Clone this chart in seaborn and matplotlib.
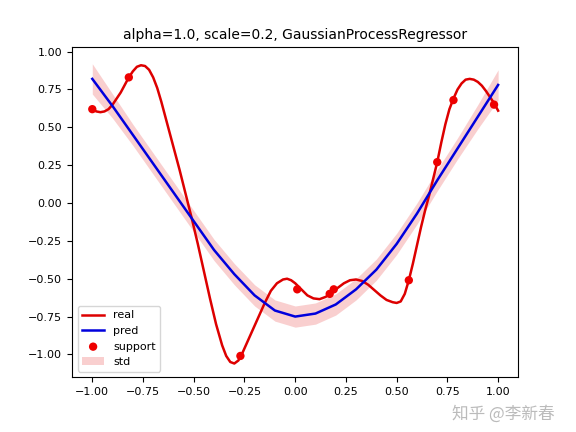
import seaborn as sns
import numpy as np
import matplotlib.pyplot as plt

real_x = [-1.0, -0.98, -0.96, -0.94, -0.92, -0.9, -0.88, -0.86, -0.84, -0.82, -0.8, -0.78, -0.76, -0.74,
          -0.72, -0.7, -0.68, -0.66, -0.64, -0.62, -0.6, -0.57, -0.54, -0.51, -0.48, -0.45, -0.42,
          -0.39, -0.36, -0.34, -0.32, -0.3, -0.28, -0.26, -0.24, -0.21, -0.18, -0.15, -0.12, -0.09,
          -0.06, -0.04, -0.02, 0.0, 0.03, 0.06, 0.09, 0.12, 0.15, 0.18, 0.21, 0.24, 0.27, 0.3, 0.33,
          0.36, 0.39, 0.42, 0.45, 0.48, 0.5, 0.52, 0.54, 0.56, 0.58, 0.6, 0.62, 0.64, 0.66, 0.68,
          0.7, 0.72, 0.74, 0.76, 0.78, 0.8, 0.82, 0.84, 0.86, 0.88, 0.9, 0.92, 0.94, 0.96, 0.98, 1.0]
real_y = [0.62, 0.605, 0.60, 0.605, 0.62, 0.65, 0.69, 0.73, 0.78, 0.83, 0.87, 0.90, 0.91, 0.905,
          0.88, 0.83, 0.76, 0.67, 0.57, 0.47, 0.37, 0.22, 0.06, -0.10, -0.27, -0.45, -0.63,
          -0.80, -0.94, -1.01, -1.05, -1.06, -1.04, -0.99, -0.93, -0.84, -0.75, -0.66, -0.58, -0.53,
          -0.505, -0.50, -0.51, -0.53, -0.57, -0.61, -0.63, -0.635, -0.62, -0.595, -0.56, -0.53, -0.51, -0.505, -0.515,
          -0.54, -0.575, -0.61, -0.64, -0.655, -0.66, -0.65, -0.60, -0.51, -0.40, -0.28, -0.16, -0.05, 0.05, 0.16,
          0.27, 0.40, 0.52, 0.62, 0.69, 0.75, 0.79, 0.815, 0.82, 0.815, 0.80, 0.775, 0.74, 0.70, 0.66, 0.61]

pred_x = [-1.0, -0.9, -0.8, -0.7, -0.6, -0.5, -0.4, -0.3, -0.2, -0.1, 0.0,
          0.1, 0.2, 0.3, 0.4, 0.5, 0.6, 0.7, 0.8, 0.9, 1.0]
pred_y = [0.82, 0.64, 0.45, 0.26, 0.07, -0.12, -0.31, -0.47, -0.61, -0.71, -0.75,
          -0.73, -0.67, -0.57, -0.44, -0.27, -0.07, 0.15, 0.36, 0.57, 0.78]
pred_std = [0.10, 0.08, 0.07, 0.07, 0.07, 0.07, 0.07, 0.07, 0.07, 0.07, 0.07,
            0.07, 0.07, 0.07, 0.07, 0.07, 0.07, 0.07, 0.07, 0.08, 0.10]

support_x = [-1.0, -0.82, -0.27, 0.01, 0.17, 0.19, 0.56, 0.70, 0.78, 0.98]
support_y = [0.62, 0.83, -1.01, -0.57, -0.60, -0.57, -0.51, 0.27, 0.68, 0.65]

fig, ax = plt.subplots(figsize=(5.76, 4.32), dpi=100)
fig.subplots_adjust(left=0.125, right=0.9, bottom=0.127, top=0.891)
sns.lineplot(x=real_x, y=real_y, color="#dd0000", lw=1.8, label="real", ax=ax)
sns.lineplot(x=pred_x, y=pred_y, color="#0000dd", lw=1.8, label="pred", ax=ax)
sns.scatterplot(x=support_x, y=support_y, color="#ee0000", s=36, edgecolor="none", label="support", ax=ax, zorder=3)
lo = np.array(pred_y) - np.array(pred_std)
hi = np.array(pred_y) + np.array(pred_std)
ax.fill_between(pred_x, lo, hi, color="#f4a0a0", alpha=0.5, lw=0, label="std")
ax.set_title("alpha=1.0, scale=0.2, GaussianProcessRegressor", fontsize=10)
ax.set_xticks([-1.0, -0.75, -0.5, -0.25, 0.0, 0.25, 0.5, 0.75, 1.0])
ax.set_yticks([-1.0, -0.75, -0.5, -0.25, 0.0, 0.25, 0.5, 0.75, 1.0])
ax.tick_params(labelsize=8)
ax.set_xlim(-1.1, 1.1)
ax.set_ylim(-1.15, 1.03)
ax.legend(loc="lower left", fontsize=8)
fig.text(0.785, 0.03, "知乎 @李新春", color="#bbbbbb", fontsize=12,
         family=["Noto Sans CJK SC", "DejaVu Sans"])
fig.savefig("out.png")
